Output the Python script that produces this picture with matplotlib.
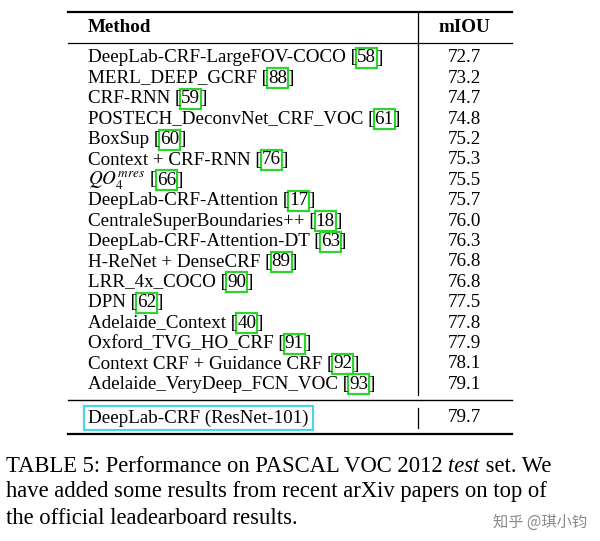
import matplotlib
matplotlib.use("Agg")
import matplotlib.pyplot as plt
from matplotlib.patches import Rectangle

methods = ["DeepLab-CRF-LargeFOV-COCO", "MERL_DEEP_GCRF", "CRF-RNN", "POSTECH_DeconvNet_CRF_VOC",
           "BoxSup", "Context + CRF-RNN", r"$QO_4^{mres}$", "DeepLab-CRF-Attention",
           "CentraleSuperBoundaries++", "DeepLab-CRF-Attention-DT", "H-ReNet + DenseCRF",
           "LRR_4x_COCO", "DPN", "Adelaide_Context", "Oxford_TVG_HO_CRF",
           "Context CRF + Guidance CRF", "Adelaide_VeryDeep_FCN_VOC"]
refs = ["58", "88", "59", "61", "60", "76", "66", "17", "18", "63", "89", "90", "62", "40", "91", "92", "93"]
miou = ["72.7", "73.2", "74.7", "74.8", "75.2", "75.3", "75.5", "75.7", "76.0", "76.3",
        "76.8", "76.8", "77.5", "77.8", "77.9", "78.1", "79.1"]
ours, ours_miou = "DeepLab-CRF (ResNet-101)", "79.7"
caption = [("TABLE 5: Performance on PASCAL VOC 2012 ", "test", " set. We"),
           ("have added some results from recent arXiv papers on top of", "", ""),
           ("the official leadearboard results.", "", "")]

plt.rcParams['font.family'] = ['Liberation Serif', 'DejaVu Serif']
plt.rcParams['mathtext.fontset'] = 'stix'
fig = plt.figure(figsize=(6, 5.41), dpi=100)
ax = fig.add_axes([0, 0, 1, 1])
ax.set_xlim(0, 600); ax.set_ylim(541, 0); ax.axis("off")
r = fig.canvas.get_renderer()
fs = 13.7

def right_of(t):
    bb = t.get_window_extent(r).transformed(ax.transData.inverted())
    return bb.x1

ax.plot([68, 512], [12, 12], color="black", lw=1.6)
ax.plot([68, 512], [43, 43], color="black", lw=0.9)
ax.plot([418, 418], [12, 395], color="black", lw=0.9)
ax.plot([418, 418], [408, 428], color="black", lw=0.9)
ax.plot([68, 512], [400, 400], color="black", lw=1.0)
ax.plot([68, 512], [434, 434], color="black", lw=1.6)
ax.text(88, 28, "Method", fontsize=fs, fontweight="bold", va="center")
ax.text(464, 28, "mIOU", fontsize=fs, fontweight="bold", va="center", ha="center")

for i, (m, c, v) in enumerate(zip(methods, refs, miou)):
    y = 58 + i * 20.4
    t = ax.text(88, y, m + " [", fontsize=fs, va="center")
    x = right_of(t)
    t2 = ax.text(x, y, c, fontsize=fs, va="center")
    bb = t2.get_window_extent(r).transformed(ax.transData.inverted())
    ax.add_patch(Rectangle((bb.x0 - 1, y - 10), bb.x1 - bb.x0 + 2, 20, fill=False,
                           edgecolor="#2ed42e", lw=1.6))
    ax.text(bb.x1, y, "]", fontsize=fs, va="center")
    ax.text(464, y, v, fontsize=fs, va="center", ha="center")

y = 418
t = ax.text(88, y, ours, fontsize=fs, va="center")
ax.add_patch(Rectangle((84, y - 12), right_of(t) - 80, 24, fill=False, edgecolor="#4dd6e6", lw=1.6))
ax.text(464, y, ours_miou, fontsize=fs, va="center", ha="center")

for i, (a, b, c) in enumerate(caption):
    y = 466 + i * 26
    t = ax.text(6, y, a, fontsize=16.3, va="center")
    if b:
        t = ax.text(right_of(t), y, b, fontsize=16.3, va="center", style="italic")
        ax.text(right_of(t), y, c, fontsize=16.3, va="center")

ax.text(587, 522, "知乎 @琪小钧", fontsize=11, va="center", ha="right", color="#8a8a8a",
        family=["Noto Sans CJK SC", "DejaVu Sans"])
fig.savefig("out.png", dpi=100)
